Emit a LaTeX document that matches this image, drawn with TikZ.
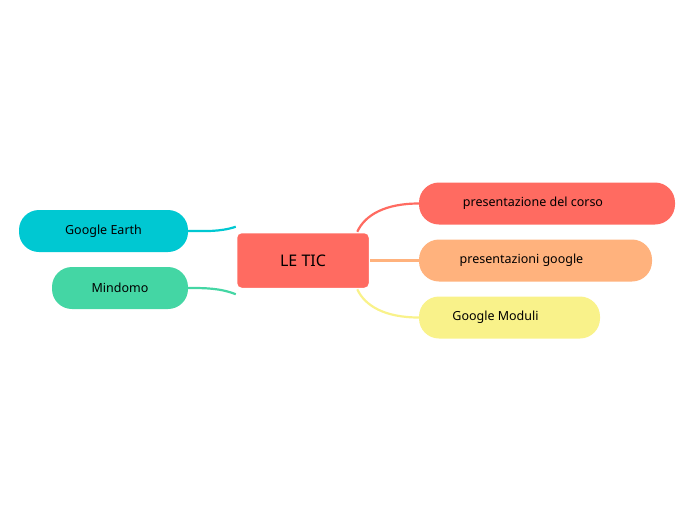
\documentclass[tikz,border=0pt]{standalone}
\usepackage{fontspec}
\setmainfont{Noto Sans}
\definecolor{cred}{HTML}{FF6B61}
\definecolor{corange}{HTML}{FFB27D}
\definecolor{cyellow}{HTML}{F9F28A}
\definecolor{ccyan}{HTML}{00C8D2}
\definecolor{cgreen}{HTML}{44D6A4}
\begin{document}
\begin{tikzpicture}[x=1pt,y=-1pt,
  pill/.style={rounded corners=20pt,minimum height=42pt,inner sep=0pt,font=\fontsize{12.5}{14}\selectfont,text=black},
  link/.style={line width=2.2pt}]
\useasboundingbox (0,0) rectangle (696,520);
\node[fill=cred,draw=white,line width=1.5pt,rounded corners=5pt,minimum width=133pt,minimum height=56pt,font=\bfseries\fontsize{16}{18}\selectfont] (c) at (303,260.5) {LE TIC};
\node[pill,fill=cred,minimum width=256pt] (r1) at (547,203.5) {\hspace*{-28pt}presentazione del corso};
\node[pill,fill=corange,minimum width=233pt] (r2) at (535.5,260.5) {\hspace*{-28pt}presentazioni google};
\node[pill,fill=cyellow,minimum width=181pt] (r3) at (509.5,317.5) {\hspace*{-28pt}Google Moduli};
\node[pill,fill=ccyan,minimum width=169pt] (l1) at (103.5,231) {Google Earth};
\node[pill,fill=cgreen,minimum width=136pt] (l2) at (120,288) {Mindomo};
\begin{scope}[on background layer/.try]
\end{scope}
\draw[link,cred] ([xshift=-13pt]c.north east) .. controls (365,215) and (385,203.5) .. (r1.west);
\draw[link,corange] (c.east) -- (r2.west);
\draw[link,cyellow] ([xshift=-13pt]c.south east) .. controls (365,306) and (385,317.5) .. (r3.west);
\draw[link,ccyan] ([yshift=5pt]c.north west) .. controls (220,232) and (205,231) .. (l1.east);
\draw[link,cgreen] ([yshift=-5pt]c.south west) .. controls (220,288) and (205,288) .. (l2.east);
\end{tikzpicture}
\end{document}
